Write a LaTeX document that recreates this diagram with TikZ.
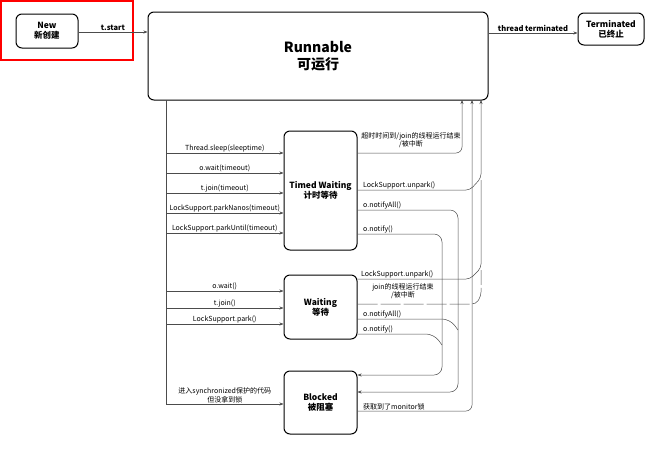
\documentclass[tikz,border=0pt]{standalone}
\usepackage{fontspec}
\setmainfont{Noto Sans CJK SC}
\usetikzlibrary{arrows.meta}
\begin{document}
\begin{tikzpicture}[x=1pt,y=-1pt,
  st/.style={draw,line width=1pt,rounded corners=6pt,align=center,font=\fontsize{8.5}{10}\selectfont\bfseries},
  ln/.style={draw=black!70,line width=0.5pt,-{Stealth[length=4pt,width=3pt]}},
  lb/.style={font=\fontsize{7}{8.5}\selectfont,inner sep=1pt}]
\useasboundingbox (0,0) rectangle (654,448);
\draw[red,line width=1.5pt] (1,1) rectangle (133,60);
\node[st,minimum width=62pt,minimum height=34pt] (new) at (47,31) {New\\新创建};
\node[st,minimum width=340pt,minimum height=88pt,font=\fontsize{14}{17}\selectfont\bfseries] (run) at (318,56) {Runnable\\可运行};
\node[st,minimum width=66pt,minimum height=32pt] (term) at (611,29) {Terminated\\已终止};
\node[st,minimum width=73pt,minimum height=119pt] (tw) at (320.5,190.5) {Timed Waiting\\计时等待};
\node[st,minimum width=73pt,minimum height=64pt] (w) at (320.5,307) {Waiting\\等待};
\node[st,minimum width=73pt,minimum height=63pt] (b) at (320.5,402.5) {Blocked\\被阻塞};
% top arrows
\draw[ln] (new.east|-0,32) -- node[lb,above,font=\fontsize{7.5}{9}\selectfont\bfseries]{t.start} (run.west|-0,32);
\draw[ln] (run.east|-0,33) -- node[lb,above,font=\fontsize{7.5}{9}\selectfont\bfseries]{thread terminated} (term.west|-0,33);
% left trunk
\coordinate (lt) at (166,100);
\draw[black!70,line width=0.5pt] (lt) -- (166,404);
\foreach \y/\t in {153/Thread.sleep(sleeptime),173/o.wait(timeout),193/t.join(timeout),213/LockSupport.parkNanos(timeout),233/LockSupport.parkUntil(timeout)}
  \draw[ln] (166,\y) -- node[lb,above]{\t} (tw.west|-0,\y);
\foreach \y/\t in {291/o.wait(),308/t.join(),324/LockSupport.park()}
  \draw[ln] (166,\y) -- node[lb,above]{\t} (w.west|-0,\y);
\draw[ln] (166,404) -- node[lb,above,align=center]{进入synchronized保护的代码\\但没拿到锁} (b.west|-0,404);
% to runnable
\draw[ln,rounded corners=6pt] (tw.east|-0,153) -- (462,153) -- (462,100);
\node[lb,align=center] (l1) at (411,140) {超时时间到/join的线程运行结束\\/被中断};
\draw[ln,rounded corners=6pt] (b.east|-0,411) -- (472,411) -- (472,100);
\node[lb,anchor=south west] (l2) at (362,411) {获取到了monitor锁};
\draw[ln,rounded corners=4pt] (tw.east|-0,190) -- (470,190) -- (481,178) -- (481,100);
\node[lb,anchor=south west] (l3) at (362,190) {LockSupport.unpark()};
\draw[black!70,line width=0.5pt,rounded corners=4pt] (w.east|-0,279) -- (470,279) -- (481,268) -- (481,180);
\node[lb,anchor=south west] (l4) at (360,279) {LockSupport.unpark()};
\draw[black!70,line width=0.5pt,dash pattern=on 20pt off 3pt,rounded corners=4pt] (w.east|-0,304) -- (476,304) -- (481,296) -- (481,270);
\node[lb,align=center] (l5) at (403,291) {join的线程运行结束\\/被中断};
% notify
\draw[ln,rounded corners=8pt] (tw.east|-0,210) -- (458,210) -- (458,392) -- (b.east|-0,392);
\node[lb,anchor=south west] (l6) at (362,210) {o.notifyAll()};
\draw[ln,rounded corners=8pt] (tw.east|-0,234) -- (442,234) -- (442,375) -- (b.east|-0,375);
\node[lb,anchor=south west] (l7) at (362,234) {o.notify()};
\draw[black!70,line width=0.5pt,rounded corners=8pt] (w.east|-0,319) -- (450,319) -- (458,330);
\node[lb,anchor=south west] (l8) at (362,319) {o.notifyAll()};
\draw[black!70,line width=0.5pt,rounded corners=8pt] (w.east|-0,334) -- (434,334) -- (442,345);
\node[lb,anchor=south west] (l9) at (362,334) {o.notify()};
\end{tikzpicture}
\end{document}
